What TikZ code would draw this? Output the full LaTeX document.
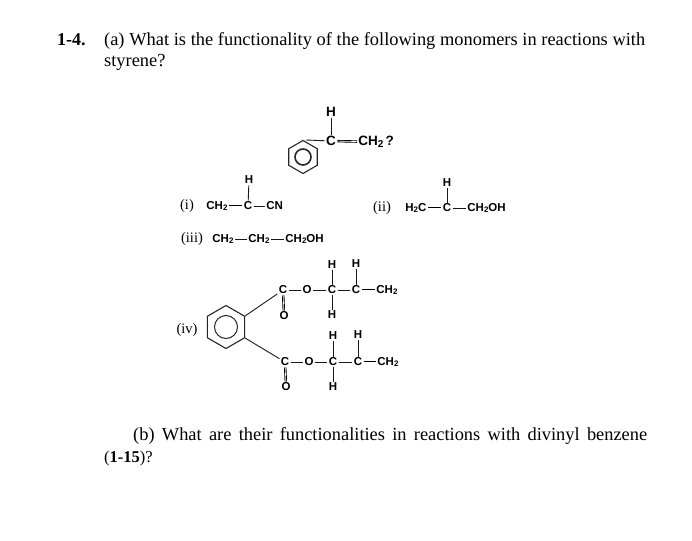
\documentclass[tikz,border=0pt]{standalone}
\usepackage{fontspec}
\setmainfont{Liberation Serif}
\newfontfamily\chemfont{Liberation Sans}
\usetikzlibrary{shapes.geometric}
\newcommand{\sbs}[1]{\raisebox{-0.25ex}{\fontsize{8}{8}\selectfont #1}}
\newcommand{\sbb}[1]{\raisebox{-0.3ex}{\fontsize{10}{10}\selectfont #1}}
\tikzset{
  x=1pt,y=-1pt,
  para/.style={anchor=base west,inner sep=0pt,font=\fontsize{18.4}{20}\selectfont},
  tag/.style={inner sep=0pt,font=\fontsize{14.5}{16}\selectfont},
  atom/.style={inner sep=1.2pt,font=\chemfont\bfseries\fontsize{11.5}{13}\selectfont},
  atomb/.style={inner sep=1.2pt,font=\chemfont\bfseries\fontsize{13.5}{15}\selectfont},
  bond/.style={line width=0.9pt,black!90},
  dbond/.style={line width=0.9pt,black,double,double distance=0.6pt},
  ringb/.style={regular polygon,regular polygon sides=6,shape border rotate=30,draw,line width=1.1pt,inner sep=0pt,black!85},
  ringi/.style={circle,draw,inner sep=0pt,black!85},
}
\begin{document}
\begin{tikzpicture}
\useasboundingbox (0,0) rectangle (692,540);
% text
\node[para,font=\bfseries\fontsize{18}{20}\selectfont] (n14) at (57,45.5) {1-4.};
\node[para] (qa) at (104,45.5) {\hbox to 541pt{(a) What is the functionality of the following monomers in reactions with}};
\node[para] (qa2) at (104,66.5) {styrene?};
\node[para] (qb) at (133,440) {\hbox to 514pt{(b) What are their functionalities in reactions with divinyl benzene}};
\node[para] (qb2) at (104,462) {\fontsize{16.5}{18}\selectfont(\textbf{1-15})?};
% styrene
\node[ringb,minimum size=33pt] (sr) at (303,157) {};
\node[ringi,minimum size=16pt,line width=1.6pt] (si) at (303,157) {};
\node[atomb] (sc) at (331,141) {C};
\node[atomb] (sh) at (331,112) {H};
\node[atomb,anchor=west] (sch) at (357,142) {CH\sbb{2}\,?};
\draw[bond] (sh) -- (sc);
\coordinate (sa) at (306,140);
\draw[bond] (sa) -- (sc);
\draw[dbond] (sc) -- (sch);
% (i)
\node[tag] (ti) at (187,206) {(i)};
\node[atom,anchor=west] (ia) at (205,206) {CH\sbs{2}};
\node[atom] (ic) at (248,206) {C};
\node[atom] (ih) at (249,180) {H};
\node[atom,anchor=west] (icn) at (265,206) {CN};
\draw[dbond] (ia) -- (ic);
\draw[bond] (ih) -- (ic);
\draw[bond] (ic) -- (icn);
% (ii)
\node[tag] (tii) at (382,208) {(ii)};
\node[atom,anchor=west] (iia) at (404,208) {H\sbs{2}C};
\node[atom] (iic) at (447,208) {C};
\node[atom] (iih) at (447,183) {H};
\node[atom,anchor=west] (iio) at (466,208) {CH\sbs{2}OH};
\draw[dbond] (iia) -- (iic);
\draw[bond] (iih) -- (iic);
\draw[bond] (iic) -- (iio);
% (iii)
\node[tag] (tiii) at (192,239) {(iii)};
\node[atom,anchor=west] (iiia) at (211,239) {CH\sbs{2}};
\node[atom,anchor=west] (iiib) at (247,239) {CH\sbs{2}};
\node[atom,anchor=west] (iiic) at (284,239) {CH\sbs{2}OH};
\draw[bond] (iiia) -- (iiib);
\draw[bond] (iiib) -- (iiic);
% (iv)
\node[tag] (tiv) at (187,330) {(iv)};
\node[ringb,minimum size=43pt] (r) at (226,327) {};
\node[ringi,minimum size=23pt,line width=1pt] (ri) at (226,327) {};
% upper ester
\node[atom] (ac) at (283,290) {C};
\node[atom] (ao) at (284,316) {O};
\node[atom] (ae) at (307,290) {O};
\node[atom] (af) at (332,290) {C};
\node[atom] (ah1) at (332,265) {H};
\node[atom] (ah2) at (332,315) {H};
\node[atom] (ag) at (356,290) {C};
\node[atom] (ah3) at (356,264) {H};
\node[atom,anchor=west] (ak) at (375,290) {CH\sbs{2}};
\draw[bond] (r.corner 6) -- (ac);
\draw[dbond] (ac) -- (ao);
\draw[bond] (ac) -- (ae);
\draw[bond] (ae) -- (af);
\draw[bond] (af) -- (ag);
\draw[bond] (ah1) -- (af);
\draw[bond] (af) -- (ah2);
\draw[bond] (ah3) -- (ag);
\draw[dbond] (ag) -- (ak);
% lower ester
\node[atom] (bc) at (285,362) {C};
\node[atom] (bo) at (286,387) {O};
\node[atom] (be) at (309,362) {O};
\node[atom] (bf) at (333,362) {C};
\node[atom] (bh1) at (333,336) {H};
\node[atom] (bh2) at (333,387) {H};
\node[atom] (bg) at (358,362) {C};
\node[atom] (bh3) at (358,335) {H};
\node[atom,anchor=west] (bk) at (376,362) {CH\sbs{2}};
\draw[bond] (r.corner 5) -- (bc);
\draw[dbond] (bc) -- (bo);
\draw[bond] (bc) -- (be);
\draw[bond] (be) -- (bf);
\draw[bond] (bf) -- (bg);
\draw[bond] (bh1) -- (bf);
\draw[bond] (bf) -- (bh2);
\draw[bond] (bh3) -- (bg);
\draw[dbond] (bg) -- (bk);
\end{tikzpicture}
\end{document}
